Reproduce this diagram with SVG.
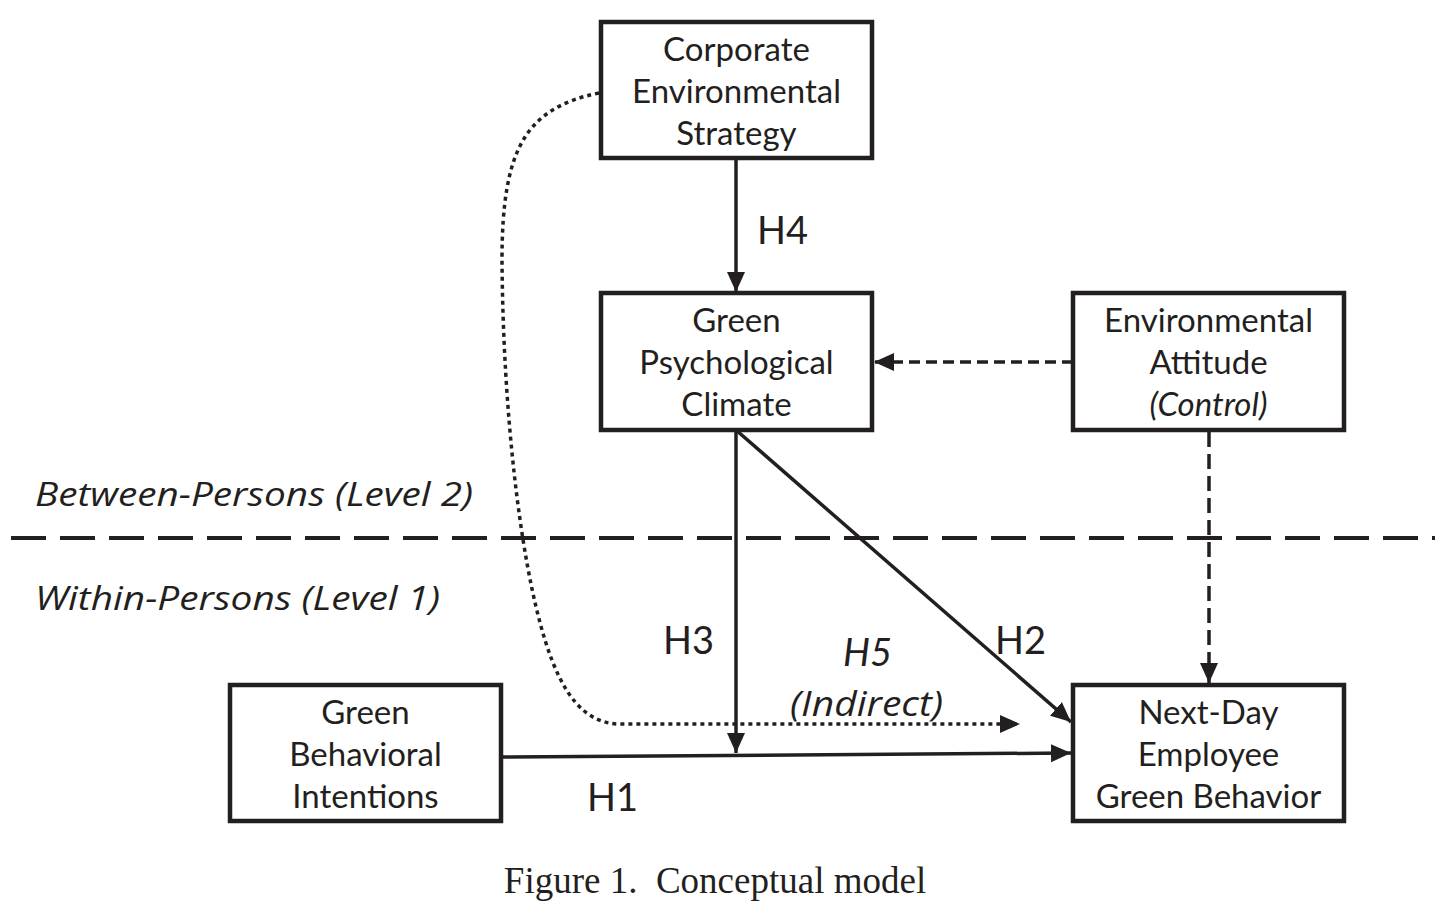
<svg xmlns="http://www.w3.org/2000/svg" width="1443" height="913" viewBox="0 0 1443 913">
<style>
.box{fill:#fff;stroke:#231f20;stroke-width:4.5}
.t{font-family:Lato,"Open Sans",sans-serif;font-size:33px;fill:#231f20;text-anchor:middle}
.h{font-family:Lato,"Open Sans",sans-serif;font-size:38px;fill:#231f20}
.i{font-style:italic}
.lvl{font-family:"Open Sans",Lato,sans-serif;font-size:33px;font-style:italic;fill:#231f20}
.ln{fill:none;stroke:#231f20;stroke-width:3.5}
</style>
<defs>
<marker id="ah" markerUnits="userSpaceOnUse" markerWidth="22" markerHeight="20" refX="20" refY="10" orient="auto">
<path d="M0,1 L20,10 L0,19 Z" fill="#231f20"/>
</marker>
</defs>
<rect width="1443" height="913" fill="#fff"/>
<g id="divider">
<line x1="11" y1="538" x2="1435" y2="538" stroke="#231f20" stroke-width="4" stroke-dasharray="35 14"/>
</g>
<g id="connectors">
<line class="ln" x1="736" y1="158" x2="736" y2="292" marker-end="url(#ah)"/>
<line class="ln" x1="736" y1="430" x2="736" y2="753" marker-end="url(#ah)"/>
<line class="ln" x1="736" y1="430" x2="1071" y2="722" marker-end="url(#ah)"/>
<line class="ln" x1="501" y1="757" x2="1071" y2="753" marker-end="url(#ah)"/>
<line class="ln" x1="1073" y1="362" x2="874" y2="362" stroke-dasharray="11 6" marker-end="url(#ah)"/>
<line class="ln" x1="1209" y1="432" x2="1209" y2="683" stroke-dasharray="15 7" marker-end="url(#ah)"/>
<path class="ln" d="M599,93 C525,108 502,150 502,260 C503,410 520,560 545,640 C562,695 585,724 620,724 L1020,724" stroke-width="4" stroke-dasharray="4 4" marker-end="url(#ah)"/>
</g>
<g id="corporate">
<rect class="box" x="601" y="22" width="271" height="136"/>
<text class="t" x="736.5" y="61">Corporate</text>
<text class="t" x="736.5" y="103">Environmental</text>
<text class="t" x="736.5" y="145">Strategy</text>
</g>
<g id="climate">
<rect class="box" x="601" y="293" width="271" height="137"/>
<text class="t" x="736.5" y="332">Green</text>
<text class="t" x="736.5" y="374">Psychological</text>
<text class="t" x="736.5" y="416">Climate</text>
</g>
<g id="attitude">
<rect class="box" x="1073" y="293" width="271" height="137"/>
<text class="t" x="1208.5" y="332">Environmental</text>
<text class="t" x="1208.5" y="374">Attitude</text>
<text class="t i" x="1208.5" y="416">(Control)</text>
</g>
<g id="intentions">
<rect class="box" x="230" y="685" width="271" height="136"/>
<text class="t" x="365.5" y="724">Green</text>
<text class="t" x="365.5" y="766">Behavioral</text>
<text class="t" x="365.5" y="808">Intentions</text>
</g>
<g id="behavior">
<rect class="box" x="1073" y="685" width="271" height="136"/>
<text class="t" x="1208.5" y="724">Next-Day</text>
<text class="t" x="1208.5" y="766">Employee</text>
<text class="t" x="1208.5" y="808">Green Behavior</text>
</g>
<g id="labels">
<text class="h" x="757" y="244">H4</text>
<text class="h" x="663" y="654">H3</text>
<text class="h" x="995" y="654">H2</text>
<text class="h i" x="843" y="666">H5</text>
<text class="lvl" x="790" y="716" style="font-size:35px" textLength="153" lengthAdjust="spacingAndGlyphs">(Indirect)</text>
<text class="h" x="587" y="811">H1</text>
<text class="lvl" x="35" y="506" textLength="438" lengthAdjust="spacingAndGlyphs">Between-Persons (Level 2)</text>
<text class="lvl" x="35" y="610" textLength="405" lengthAdjust="spacingAndGlyphs">Within-Persons (Level 1)</text>
</g>
<text x="715" y="893" font-family="'Liberation Serif',serif" font-size="37" fill="#231f20" text-anchor="middle" xml:space="preserve">Figure 1.  Conceptual model</text>
</svg>
